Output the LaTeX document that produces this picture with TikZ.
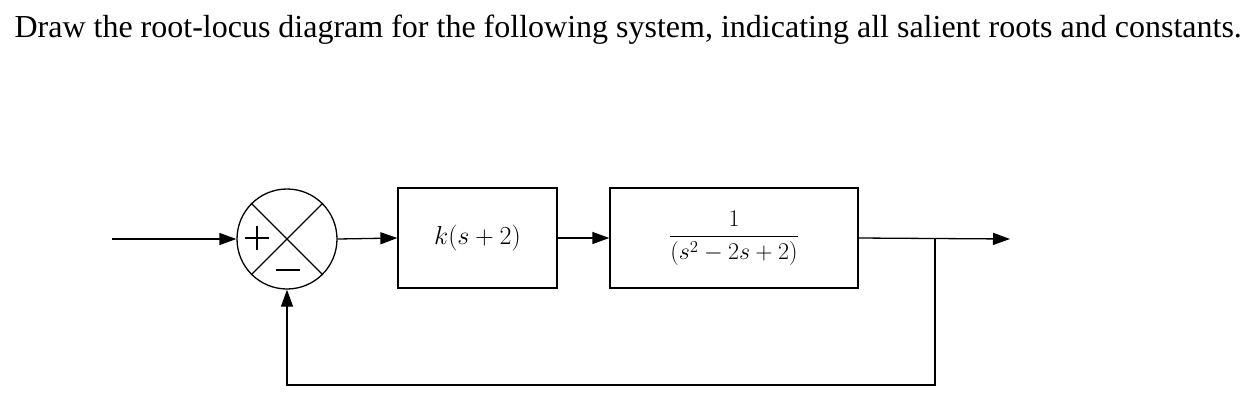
\RequirePackage{fix-cm}
\documentclass[tikz,border=0pt]{standalone}
\usepackage{amsmath}
\usepackage{fontspec}
\setmainfont{Liberation Serif}
\usetikzlibrary{arrows.meta}
\begin{document}
\begin{tikzpicture}[x=1pt,y=-1pt,
  blk/.style={draw,line width=1.3pt,inner sep=0pt},
  ln/.style={line width=1.3pt},
  arr/.style={ln,-{Triangle[length=17pt,width=12pt]}}]
\useasboundingbox (0,0) rectangle (1254,416);
\node[anchor=west,font=\fontsize{32}{36}\selectfont] (title) at (11,30) {Draw the root-locus diagram for the following system, indicating all salient roots and constants.};
\node[circle,draw,line width=1.3pt,minimum size=100pt,inner sep=0pt] (sum) at (287,239) {};
\draw[ln] (sum.45) -- (sum.225) (sum.135) -- (sum.315);
\draw[ln] (245,238) -- (269,238) (257,226) -- (257,250);
\draw[ln] (276,270) -- (300,270);
\node[blk,minimum width=159pt,minimum height=100pt] (b1) at (477.5,238) {\fontsize{26}{30}\selectfont $k(s+2)$};
\node[blk,minimum width=248pt,minimum height=100pt] (b2) at (734,238) {\fontsize{24}{28}\selectfont $\dfrac{1}{(s^2-2s+2)}$};
\coordinate (in) at (112,239);
\coordinate (out) at (1010,239);
\coordinate (br) at (935,239);
\coordinate (bl) at (935,385);
\coordinate (bb) at (287,385);
\draw[arr] (in) -- (sum.west);
\draw[arr] (sum.east) -- (b1.west);
\draw[arr] (b1.east) -- (b2.west);
\draw[arr] (b2.east) -- (out);
\draw[arr] (br) -- (bl) -- (bb) -- (sum.south);
\end{tikzpicture}
\end{document}
